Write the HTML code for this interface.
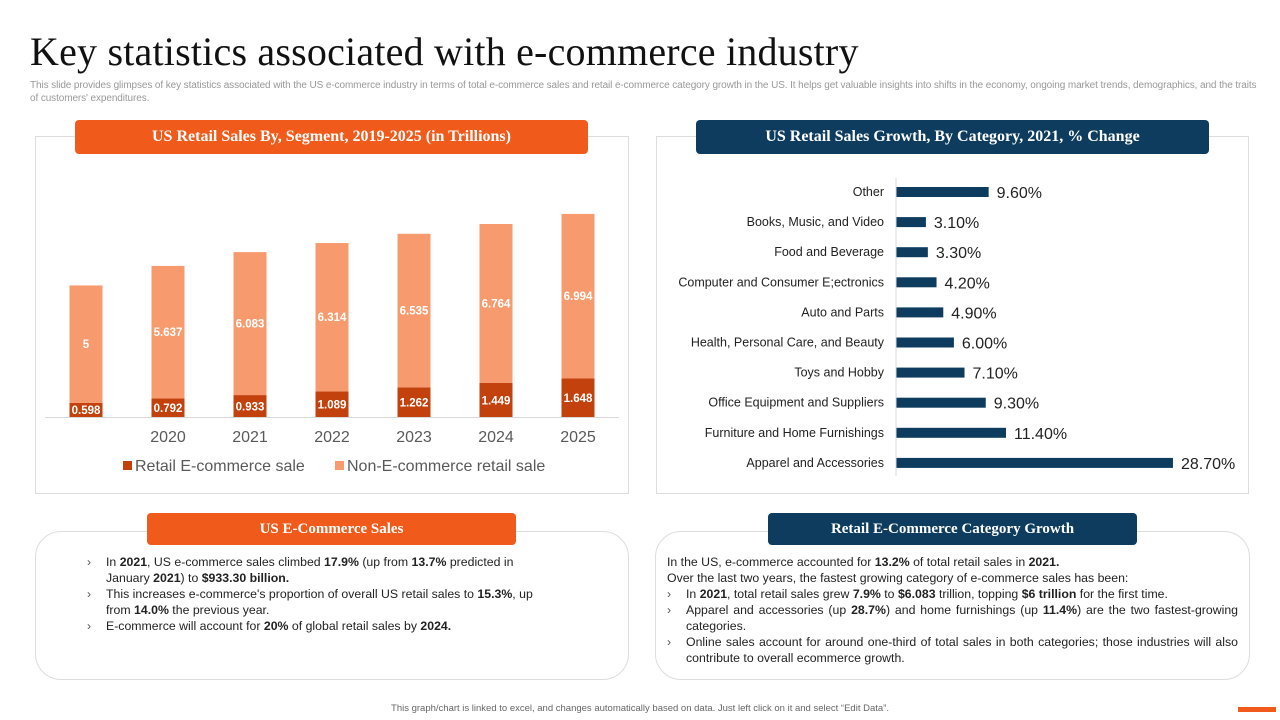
<!DOCTYPE html>
<html><head><meta charset="utf-8"><style>
*{margin:0;padding:0;box-sizing:border-box}
body{width:1280px;height:720px;background:#fff;font-family:"Liberation Sans",sans-serif;position:relative;overflow:hidden;color:#222}
.abs{position:absolute}
h1{position:absolute;left:30px;top:28px;font-family:"Liberation Serif",serif;font-weight:normal;font-size:40px;color:#111;letter-spacing:0.2px}
.sub{left:30px;top:79px;width:1230px;font-size:10px;color:#999;line-height:13px;letter-spacing:-0.1px}
.panel{border:1px solid #ddd;position:absolute}
.hdr{position:absolute;height:34px;border-radius:4px;color:#fff;font-family:"Liberation Serif",serif;font-weight:bold;font-size:16px;text-align:center;line-height:34px}
.or{background:#F05A1A}.nv{background:#0D3C5E}
.box{position:absolute;border:1px solid #ddd;border-radius:26px}
.txt{position:absolute;font-size:12.3px;line-height:16px;color:#222}
.li{padding-left:19px;position:relative}
.li:before{content:"›";position:absolute;left:0;top:0;color:#555}
</style></head><body>
<h1>Key statistics associated with e-commerce industry</h1>
<div class="abs sub">This slide provides glimpses of key statistics associated with the US e-commerce industry in terms of total e-commerce sales and retail e-commerce category growth in the US. It helps get valuable insights into shifts in the economy, ongoing market trends, demographics, and the traits of customers' expenditures.</div>

<div class="panel" style="left:35px;top:136px;width:594px;height:358px"></div>
<div class="hdr or" style="left:75px;top:120px;width:513px">US Retail Sales By, Segment, 2019-2025 (in Trillions)</div>
<svg class="abs" style="left:0;top:0" width="640" height="500" id="barsvg"></svg>

<div class="panel" style="left:656px;top:136px;width:593px;height:358px"></div>
<div class="hdr nv" style="left:696px;top:120px;width:513px">US Retail Sales Growth, By Category, 2021, % Change</div>
<svg class="abs" style="left:640px;top:0" width="640" height="500" id="hsvg"></svg>

<div class="box" style="left:35px;top:531px;width:594px;height:149px"></div>
<div class="hdr or" style="left:147px;top:513px;width:369px;height:32px;line-height:32px;font-size:15px">US E-Commerce Sales</div>
<div class="txt" style="left:87px;top:554px;width:470px">
<div class="li">In <b>2021</b>, US e-commerce sales climbed <b>17.9%</b> (up from <b>13.7%</b> predicted in January <b>2021</b>) to <b>$933.30 billion.</b></div>
<div class="li">This increases e-commerce's proportion of overall US retail sales to <b>15.3%</b>, up from <b>14.0%</b> the previous year.</div>
<div class="li">E-commerce will account for <b>20%</b> of global retail sales by <b>2024.</b></div>
</div>

<div class="box" style="left:655px;top:531px;width:595px;height:149px"></div>
<div class="hdr nv" style="left:768px;top:513px;width:369px;height:32px;line-height:32px;font-size:15px">Retail E-Commerce Category Growth</div>
<div class="txt" style="left:667px;top:554px;width:571px;text-align:justify">
<div>In the US, e-commerce accounted for <b>13.2%</b> of total retail sales in <b>2021.</b></div>
<div>Over the last two years, the fastest growing category of e-commerce sales has been:</div>
<div class="li">In <b>2021</b>, total retail sales grew <b>7.9%</b> to <b>$6.083</b> trillion, topping <b>$6 trillion</b> for the first time.</div>
<div class="li">Apparel and accessories (up <b>28.7%</b>) and home furnishings (up <b>11.4%</b>) are the two fastest-growing categories.</div>
<div class="li">Online sales account for around one-third of total sales in both categories; those industries will also contribute to overall ecommerce growth.</div>
</div>

<div class="abs" style="left:0;top:703px;width:1280px;text-align:center;font-size:9.5px;color:#666">This graph/chart is linked to excel, and changes automatically based on data. Just left click on it and select “Edit Data”.</div>
<div class="abs" style="left:1238px;top:707px;width:38px;height:5px;background:#F05A1A"></div>

<script>
const years=["","2020","2021","2022","2023","2024","2025"];
const ecom=[0.598,0.792,0.933,1.089,1.262,1.449,1.648];
const nonEcom=[5,5.637,6.083,6.314,6.535,6.764,6.994];
const cats=["Other","Books, Music, and Video","Food and Beverage","Computer and Consumer E;ectronics","Auto and Parts","Health, Personal Care, and Beauty","Toys and Hobby","Office Equipment and Suppliers","Furniture and Home Furnishings","Apparel and Accessories"];
const growth=[9.6,3.1,3.3,4.2,4.9,6.0,7.1,9.3,11.4,28.7];
const NS="http://www.w3.org/2000/svg";
function mk(p,t,a){const e=document.createElementNS(NS,t);for(const k in a)e.setAttribute(k,a[k]);p.appendChild(e);return e;}
const s1=document.getElementById('barsvg');
const base=417,x0=45,x1=619,bw=33;
const step=(x1-x0)/years.length;
const yv=v=>v*23.5;
const xc=i=>x0+step*(i+0.5);
const ax=mk(s1,'line',{x1:x0,x2:x1,y1:base+0.5,y2:base+0.5,stroke:'#d9d9d9'});

years.forEach((yr,i)=>{
  const h1=yv(ecom[i]), h2=yv(nonEcom[i]);
  const r1=mk(s1,'rect',{x:xc(i)-bw/2,y:base-h1,width:bw,height:h1,fill:'#C2410C'});
  
  const r2=mk(s1,'rect',{x:xc(i)-bw/2,y:base-h1-h2,width:bw,height:h2,fill:'#F79B6E'});
  
  const t1=mk(s1,'text',{x:xc(i),y:base-Math.max(h1,15)/2+4.5,'text-anchor':'middle','font-size':11.5,'font-weight':'bold',fill:'#fff'});t1.textContent=ecom[i];
  
  const t2=mk(s1,'text',{x:xc(i),y:base-h1-h2/2+4,'text-anchor':'middle','font-size':11.5,'font-weight':'bold',fill:'#fff'});t2.textContent=nonEcom[i];
  
  const t3=mk(s1,'text',{x:xc(i),y:442,'text-anchor':'middle','font-size':16,fill:'#595959'});t3.textContent=yr;
  
});
const lg=[[123,'#C2410C','Retail E-commerce sale'],[335,'#F79B6E','Non-E-commerce retail sale']];
lg.forEach(l=>{const r=mk(s1,'rect',{x:l[0],y:461,width:9,height:9,fill:l[1]});

const t=mk(s1,'text',{x:l[0]+12,y:471,'font-size':16,fill:'#595959'});t.textContent=l[2];
});
const s2=document.getElementById('hsvg');
const hx0=256,sc=9.65,row0=192,rs=30.1;
cats.forEach((c,i)=>{const yc=row0+rs*i;const w=growth[i]*sc;
 const r=mk(s2,'rect',{x:hx0,y:yc-5,width:w,height:10,fill:'#0D3C5E'});
 
 const t=mk(s2,'text',{x:hx0-12,y:yc+4,'text-anchor':'end','font-size':12.5,fill:'#222'});t.textContent=c;
 
 const v=mk(s2,'text',{x:hx0+w+8,y:yc+6,'font-size':16,fill:'#222'});v.textContent=growth[i].toFixed(2)+'%';
 
});
const ya=mk(s2,'line',{x1:hx0,x2:hx0,y1:178,y2:476,stroke:'#d9d9d9'});

</script>
</body></html>
